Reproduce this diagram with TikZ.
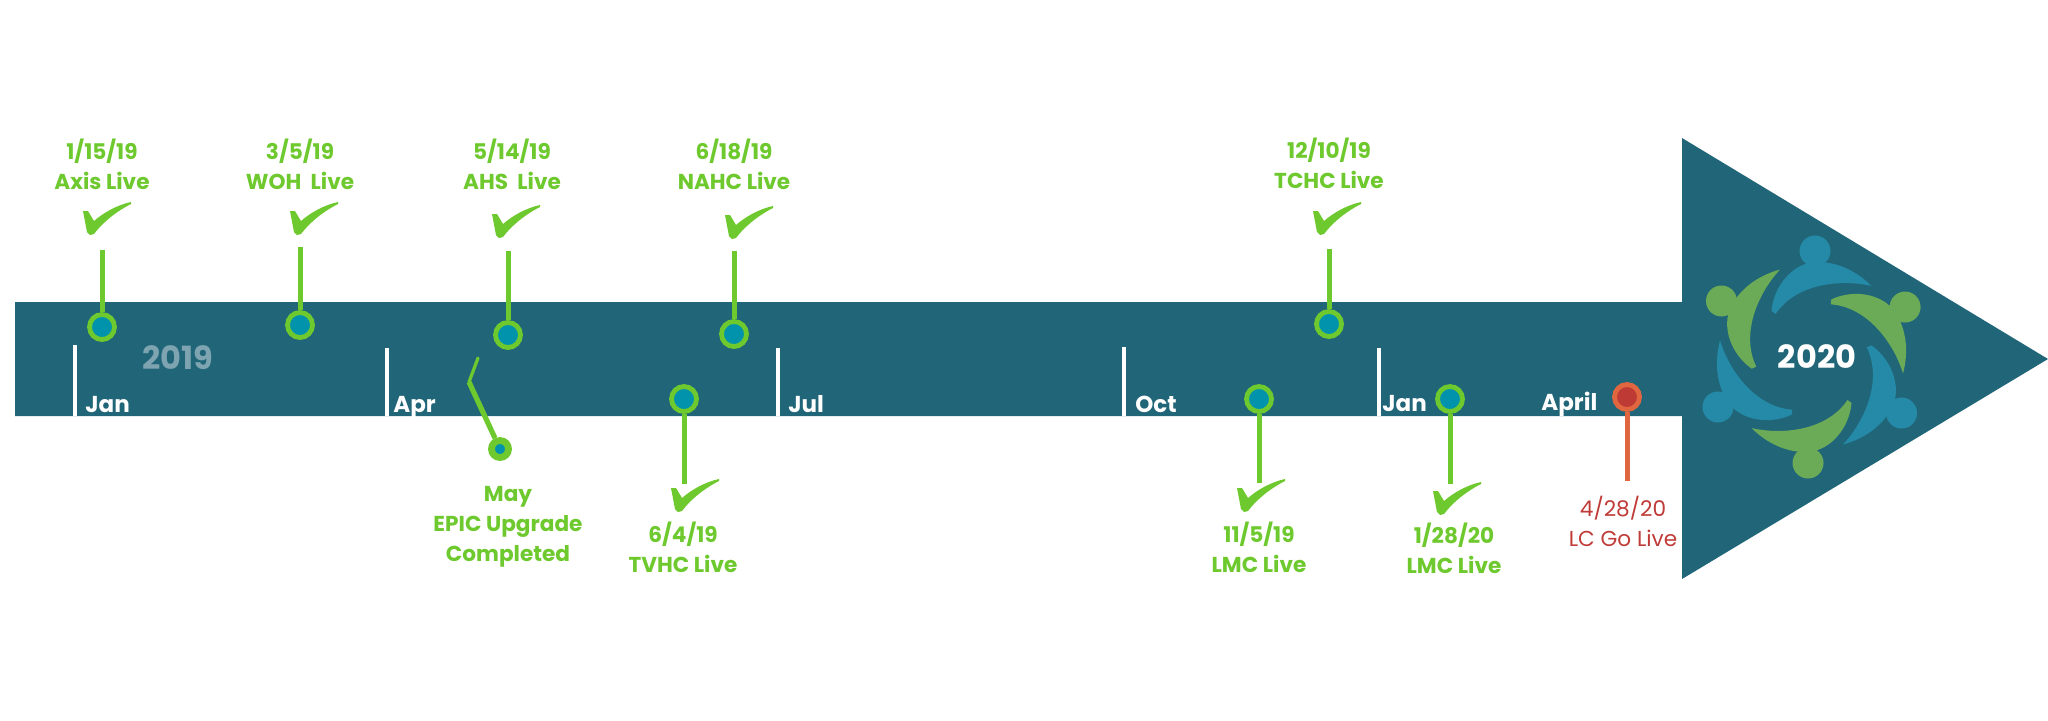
\documentclass[tikz,border=0pt]{standalone}
\usepackage{fontspec}
\setmainfont{Poppins}
\definecolor{bandteal}{HTML}{216678}
\definecolor{livegreen}{HTML}{6EC92E}
\definecolor{pinblue}{HTML}{0093AB}
\definecolor{redtext}{HTML}{BF3B38}
\definecolor{redline}{HTML}{E0663F}
\definecolor{redfill}{HTML}{BE3A35}
\definecolor{faded}{HTML}{7DA4B0}
\definecolor{logoblue}{HTML}{2589A8}
\definecolor{logogreen}{HTML}{6BAA56}
\tikzset{
    livetext/.style = {text = livegreen, align = center, inner sep = 0pt, font = \fontsize{10.8}{15}\selectfont\bfseries},
    redlabel/.style = {text = redtext, align = center, inner sep = 0pt, font = \fontsize{10.8}{15}\selectfont},
    month/.style = {text = white, anchor = base west, inner sep = 0pt, font = \fontsize{11.5}{12}\selectfont\bfseries},
    year/.style = {inner sep = 0pt, font = \fontsize{16}{18}\selectfont\bfseries},
    pinnode/.style = {circle, draw = livegreen, fill = pinblue, line width = 2.4pt, minimum size = 12.5pt, inner sep = 0pt},
    rednode/.style = {circle, draw = redline, fill = redfill, line width = 2.4pt, minimum size = 12.5pt, inner sep = 0pt},
    epicnode/.style = {circle, draw = livegreen, fill = pinblue, line width = 3.4pt, minimum size = 8.5pt, inner sep = 0pt},
    stem/.style = {draw = livegreen, line width = 2.5pt},
    redstem/.style = {draw = redline, line width = 2.5pt},
    tickline/.style = {draw = white, line width = 1.7pt},
    tickmark/.pic = {
        \fill [livegreen, line join = round] (0, 9) -- (5, 9) -- (11, 19) .. controls (20, 11) and (34, 3) .. (48, 0) -- (48, 2) .. controls (34, 9) and (20, 20) .. (11, 32) -- (7, 33) -- (4, 30) -- cycle;
    },
    figure/.pic = {
        \fill [pic actions] (3.5, -106) circle [radius = 15.5];
        \fill [pic actions, line join = round] (-40, -46) .. controls (-38, -70) and (-20, -93) .. (3, -95) .. controls (25, -96) and (45, -86) .. (60, -71) .. controls (30, -78) and (-15, -74) .. (-36, -43) -- cycle;
    }
}
\begin{document}
\begin{tikzpicture}[x = 0.5pt, y = -0.5pt]
    \useasboundingbox (0, 0) rectangle (2048, 720);
    \fill [bandteal] (15, 302) -- (1682, 302) -- (1682, 138) -- (2048, 359) -- (1682, 579) -- (1682, 416) -- (15, 416) -- cycle;

    \draw [tickline] (75, 345) -- (75, 416);
    \draw [tickline] (387, 348) -- (387, 416);
    \draw [tickline] (778, 348) -- (778, 416);
    \draw [tickline] (1124, 347) -- (1124, 416);
    \draw [tickline] (1379, 348) -- (1379, 416);
    \node [month] (jan) at (85, 412) {Jan};
    \node [month] (apr) at (393, 412) {Apr};
    \node [month] (jul) at (788, 412) {Jul};
    \node [month] (oct) at (1135, 412) {Oct};
    \node [month] (janb) at (1382, 411) {Jan};
    \node [month] (april) at (1541, 410) {April};
    \node [year, text = faded] (yeara) at (178, 358) {2019};

    \coordinate (axistop) at (102, 250);
    \coordinate (wohtop) at (300, 247);
    \coordinate (ahstop) at (508, 251);
    \coordinate (nahctop) at (734, 251);
    \coordinate (tchctop) at (1329, 249);
    \coordinate (tvhcend) at (684, 484);
    \coordinate (lmcend) at (1259, 483);
    \coordinate (lmcbend) at (1450, 484);
    \coordinate (lcend) at (1627, 481);
    \coordinate (epictop) at (478, 358);
    \coordinate (epicbend) at (469, 382);

    \node [pinnode] (axis) at (102, 327) {};
    \node [pinnode] (woh) at (300, 325) {};
    \node [pinnode] (ahs) at (508, 335) {};
    \node [pinnode] (nahc) at (734, 334) {};
    \node [pinnode] (tchc) at (1329, 324) {};
    \node [pinnode] (tvhc) at (684, 399) {};
    \node [pinnode] (lmc) at (1259, 399) {};
    \node [pinnode] (lmcb) at (1450, 399) {};
    \node [rednode] (lc) at (1627, 397) {};
    \node [epicnode] (epic) at (500, 449) {};

    \draw [stem] (axis) -- (axistop);
    \draw [stem] (woh) -- (wohtop);
    \draw [stem] (ahs) -- (ahstop);
    \draw [stem] (nahc) -- (nahctop);
    \draw [stem] (tchc) -- (tchctop);
    \draw [stem] (tvhc) -- (tvhcend);
    \draw [stem] (lmc) -- (lmcend);
    \draw [stem] (lmcb) -- (lmcbend);
    \draw [redstem] (lc) -- (lcend);
    \draw [stem, line width = 2.6pt] (epic) -- (epicbend);
    \draw [stem, line width = 1.6pt, line cap = round] (epicbend) -- (epictop);

    \pic at (83, 202) {tickmark};
    \pic at (290, 202) {tickmark};
    \pic at (492, 205) {tickmark};
    \pic at (725, 206) {tickmark};
    \pic at (1313, 202) {tickmark};
    \pic at (671, 479) {tickmark};
    \pic at (1237, 479) {tickmark};
    \pic at (1433, 482) {tickmark};

    \node [livetext] (axislabel) at (102, 164) {1/15/19\\Axis Live};
    \node [livetext] (wohlabel) at (300, 164) {3/5/19\\WOH\ \ Live};
    \node [livetext] (ahslabel) at (512, 164) {5/14/19\\AHS\ \ Live};
    \node [livetext] (nahclabel) at (734, 164) {6/18/19\\NAHC Live};
    \node [livetext] (tchclabel) at (1329, 163) {12/10/19\\TCHC Live};
    \node [livetext] (epiclabel) at (508, 527) {May\\EPIC Upgrade\\Completed};
    \node [livetext] (tvhclabel) at (683, 547) {6/4/19\\TVHC Live};
    \node [livetext] (lmclabel) at (1259, 547) {11/5/19\\LMC Live};
    \node [livetext] (lmcblabel) at (1454, 548) {1/28/20\\LMC Live};
    \node [redlabel] (lclabel) at (1623, 521) {4/28/20\\LC Go Live};

    \pic [logoblue] at (1811.5, 357) {figure};
    \pic [logogreen, rotate = -60] at (1811.5, 357) {figure};
    \pic [logoblue, rotate = -120] at (1811.5, 357) {figure};
    \pic [logogreen, rotate = -180] at (1811.5, 357) {figure};
    \pic [logoblue, rotate = -240] at (1811.5, 357) {figure};
    \pic [logogreen, rotate = -300] at (1811.5, 357) {figure};
    \node [year, text = white] (yearb) at (1817, 357) {2020};
\end{tikzpicture}
\end{document}
